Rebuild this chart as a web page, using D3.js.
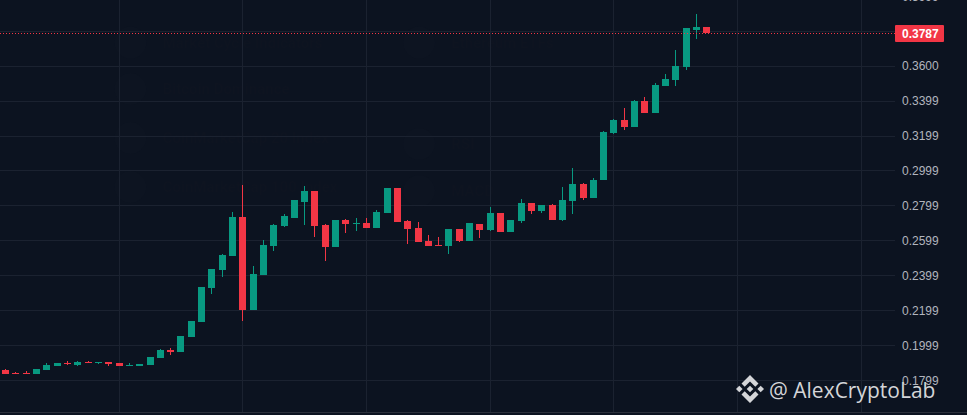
<!DOCTYPE html>
<html>
<head>
<meta charset="utf-8">
<script src="https://cdn.jsdelivr.net/npm/d3@7"></script>
<style>
    html, body { margin: 0; padding: 0; background: #0c1320; overflow: hidden; }
    svg { display: block; }
</style>
</head>
<body>
<script>
var width = 967, height = 415;

// candles, one entry per bar
var opens = [.1859,.1842,.1842,.1836,.1859,.1882,.1899,.1888,.1905,.1899,.1905,.1899,.1882,.1882,.1888,.1928,.1974,.1962,.2048,.2134,.2329,.2432,.2512,.2735,.2203,.2403,.2569,.2684,.2730,.2821,.2884,.2689,.2563,.2718,.2695,.2701,.2672,.2758,.2901,.2712,.2672,.2598,.2575,.2569,.2666,.2598,.2695,.2661,.2758,.2649,.2712,.2815,.2770,.2804,.2718,.2827,.2924,.2844,.2947,.3216,.3291,.3251,.3400,.3331,.3485,.3520,.3594,.3806,.3823];
var highs = [.1865,.1848,.1853,.1865,.1899,.1899,.1911,.1911,.1911,.1905,.1905,.1899,.1899,.1893,.1933,.1979,.1985,.2054,.2140,.2334,.2437,.2523,.2764,.2919,.2455,.2604,.2695,.2752,.2833,.2913,.2884,.2695,.2718,.2724,.2730,.2730,.2775,.2901,.2901,.2718,.2707,.2632,.2621,.2666,.2666,.2701,.2695,.2793,.2758,.2718,.2838,.2815,.2804,.2810,.2907,.3016,.2930,.2959,.3228,.3296,.3359,.3405,.3422,.3503,.3554,.3692,.3818,.3898,.3823];
var lows = [.1836,.1836,.1836,.1836,.1859,.1882,.1888,.1882,.1899,.1893,.1882,.1882,.1882,.1882,.1888,.1928,.1945,.1962,.2048,.2134,.2294,.2392,.2512,.2140,.2203,.2403,.2541,.2678,.2730,.2689,.2621,.2483,.2563,.2644,.2655,.2672,.2672,.2758,.2707,.2581,.2592,.2569,.2569,.2523,.2592,.2598,.2615,.2655,.2649,.2649,.2701,.2752,.2758,.2718,.2712,.2752,.2833,.2844,.2947,.3211,.3233,.3251,.3331,.3331,.3485,.3485,.3577,.3755,.3787];
var closes = [.1836,.1836,.1836,.1865,.1888,.1899,.1893,.1905,.1899,.1905,.1893,.1882,.1888,.1893,.1933,.1974,.1962,.2054,.2140,.2334,.2437,.2518,.2735,.2203,.2409,.2575,.2689,.2741,.2833,.2884,.2684,.2563,.2718,.2695,.2701,.2672,.2764,.2901,.2707,.2666,.2592,.2569,.2569,.2666,.2598,.2701,.2661,.2758,.2649,.2718,.2815,.2770,.2804,.2718,.2833,.2924,.2844,.2947,.3222,.3291,.3251,.3400,.3331,.3491,.3526,.3600,.3818,.3823,.3787];

var priceTicks = [0.3999, 0.3799, 0.3600, 0.3399, 0.3199, 0.2999, 0.2799, 0.2599, 0.2399, 0.2199, 0.1999, 0.1799];
var timeGridBars = [11, 23, 35, 47, 59, 71, 83];
var lastPrice = 0.3787;

// the faint site links sitting behind the chart
var ghostLabels = ["Market Cycle Indicators", "Bitcoin Dominance", "CoinMarketCap 20 Index", "CoinMarketCap 100 Index", "Ethereum ETFs", "RSI", "MACD"];
var ghostBars = [12, 12, 12, 12, 40, 40, 40];
var ghostPrices = [0.3734, 0.3468, 0.3188, 0.2907, 0.3734, 0.3154, 0.2884];

var candles = d3.range(opens.length).map(function(i) {
    return { i: i, o: opens[i], h: highs[i], l: lows[i], c: closes[i] };
});

var x = d3.scaleLinear().domain([0, 68]).range([5.66, 706.74]);
var y = d3.scaleLinear().domain([0.18, 0.36]).range([380.3, 66]);

var green = "#089981", red = "#f23645", gridColor = "#1b2230";
var paneRight = 895, paneBottom = 412;

function color(d) {
    return d.c >= d.o ? green : red;
}

var svg = d3.select("body").append("svg")
    .attr("width", width)
    .attr("height", height);

// ghost links
var ghost = svg.append("g");
ghost.selectAll("circle")
    .data(ghostLabels)
    .enter().append("circle")
    .attr("cx", function(d, i) { return x(ghostBars[i]) + 1; })
    .attr("cy", function(d, i) { return y(ghostPrices[i]); })
    .attr("r", 16)
    .attr("fill", "#0d1421");
ghost.selectAll("text")
    .data(ghostLabels)
    .enter().append("text")
    .attr("x", function(d, i) { return x(ghostBars[i]) + 33; })
    .attr("y", function(d, i) { return y(ghostPrices[i]) + 5; })
    .attr("font-family", "Roboto, sans-serif")
    .attr("font-weight", "bold")
    .attr("font-size", 15)
    .attr("fill", "#0e1420")
    .text(function(d) { return d; });

// grid
svg.append("g").selectAll("line")
    .data(priceTicks)
    .enter().append("line")
    .attr("x1", 0)
    .attr("x2", paneRight)
    .attr("y1", function(d) { return Math.floor(y(d)) + 0.5; })
    .attr("y2", function(d) { return Math.floor(y(d)) + 0.5; })
    .attr("stroke", gridColor);

svg.append("g").selectAll("line")
    .data(timeGridBars)
    .enter().append("line")
    .attr("x1", function(d) { return Math.floor(x(d)) + 0.5; })
    .attr("x2", function(d) { return Math.floor(x(d)) + 0.5; })
    .attr("y1", 0)
    .attr("y2", paneBottom)
    .attr("stroke", gridColor);

svg.append("line")
    .attr("x1", 0)
    .attr("x2", width)
    .attr("y1", paneBottom + 0.5)
    .attr("y2", paneBottom + 0.5)
    .attr("stroke", "#2a2f3a");

// wicks and bodies
svg.append("g").selectAll("rect")
    .data(candles)
    .enter().append("rect")
    .attr("x", function(d) { return Math.floor(x(d.i)); })
    .attr("width", 1)
    .attr("y", function(d) { return Math.round(y(d.h)); })
    .attr("height", function(d) { return Math.max(1, Math.round(y(d.l)) - Math.round(y(d.h))); })
    .attr("fill", color);

svg.append("g").selectAll("rect")
    .data(candles)
    .enter().append("rect")
    .attr("x", function(d) { return Math.floor(x(d.i)) - 3; })
    .attr("width", 7)
    .attr("y", function(d) { return Math.round(y(Math.max(d.o, d.c))); })
    .attr("height", function(d) { return Math.max(1, Math.round(y(Math.min(d.o, d.c))) - Math.round(y(Math.max(d.o, d.c)))); })
    .attr("fill", color);

// last price line
svg.append("line")
    .attr("x1", 0)
    .attr("x2", paneRight)
    .attr("y1", Math.floor(y(lastPrice)) + 0.5)
    .attr("y2", Math.floor(y(lastPrice)) + 0.5)
    .attr("stroke", red)
    .attr("stroke-dasharray", "1 2");

// price axis
var axis = d3.axisRight(y)
    .tickValues(priceTicks)
    .tickFormat(d3.format(".4f"))
    .tickSize(0)
    .tickPadding(0);

var axisG = svg.append("g")
    .attr("transform", "translate(902,0)")
    .call(axis);
axisG.select(".domain").remove();
axisG.selectAll("text")
    .attr("font-family", "'Liberation Sans', sans-serif")
    .attr("font-size", 12)
    .attr("fill", "#b2b5be");

// last price tag
svg.append("rect")
    .attr("x", paneRight)
    .attr("y", y(lastPrice) - 8.3)
    .attr("width", 49)
    .attr("height", 17)
    .attr("rx", 1)
    .attr("fill", red);
svg.append("text")
    .attr("x", 902)
    .attr("y", y(lastPrice) + 4.5)
    .attr("font-family", "'Liberation Sans', sans-serif")
    .attr("font-weight", "bold")
    .attr("font-size", 12)
    .attr("fill", "#ffffff")
    .text(d3.format(".4f")(lastPrice));

// watermark
var logo = svg.append("g")
    .attr("transform", "translate(750,389)")
    .attr("fill", "#d4d5d8");
logo.append("path").attr("d", "M0,-14 L8.5,-5.5 L5.3,-2.3 L0,-7.6 L-5.3,-2.3 L-8.5,-5.5 Z");
logo.append("path").attr("d", "M0,14 L8.5,5.5 L5.3,2.3 L0,7.6 L-5.3,2.3 L-8.5,5.5 Z");
logo.append("path").attr("d", "M0,-3.3 L3.3,0 L0,3.3 L-3.3,0 Z");
logo.append("path").attr("d", "M-10.7,-3.3 L-7.4,0 L-10.7,3.3 L-14,0 Z");
logo.append("path").attr("d", "M10.7,-3.3 L14,0 L10.7,3.3 L7.4,0 Z");

svg.append("text")
    .attr("x", 769)
    .attr("y", 398)
    .attr("font-family", "'Open Sans', sans-serif")
    .attr("font-size", 21)
    .attr("fill", "#d4d5d8")
    .text("@ AlexCryptoLab");
</script>
</body>
</html>
